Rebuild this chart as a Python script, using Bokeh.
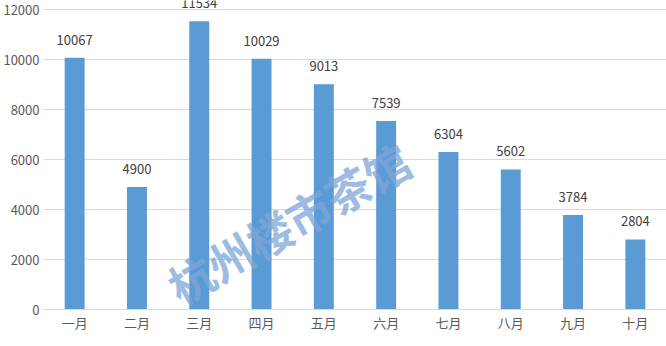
from bokeh.plotting import figure
from bokeh.models import ColumnDataSource, Range1d, FactorRange, Label
from bokeh.core.properties import value
from bokeh.embed import file_html
from bokeh.resources import INLINE

months = ["一月", "二月", "三月", "四月", "五月", "六月", "七月", "八月", "九月", "十月"]
values = [10067, 4900, 11534, 10029, 9013, 7539, 6304, 5602, 3784, 2804]
y_ticks = [0, 2000, 4000, 6000, 8000, 10000, 12000]

src = ColumnDataSource(dict(m=months, v=values, t=[str(v) for v in values]))

p = figure(width=666, height=346, x_range=FactorRange(*months, range_padding=0),
           y_range=Range1d(0, 12360), output_backend="svg", toolbar_location=None,
           min_border_left=0, min_border_right=0, min_border_top=0, min_border_bottom=37)
p.outline_line_color = None
p.background_fill_color = "white"

p.vbar(x="m", top="v", width=0.32, source=src, color="#5b9bd5", line_color=None)
p.text(x="m", y="v", text="t", source=src, text_align="center", text_baseline="bottom",
       y_offset=-13, text_font_size="13px", text_color="#404040",
       text_font=value("Noto Sans CJK SC"))

p.yaxis.ticker = y_ticks
p.yaxis.axis_line_color = None
p.yaxis.major_tick_line_color = None
p.yaxis.major_tick_out = 0
p.yaxis.major_tick_in = 0
p.yaxis.minor_tick_line_color = None
p.yaxis.major_label_text_color = "#595959"
p.yaxis.major_label_text_font_size = "13px"
p.yaxis.major_label_text_font = "Noto Sans CJK SC"
p.yaxis.major_label_standoff = 4

p.xaxis.axis_line_color = "#d9d9d9"
p.xaxis.major_tick_line_color = None
p.xaxis.major_tick_out = 0
p.xaxis.major_tick_in = 0
p.xaxis.minor_tick_line_color = None
p.xaxis.major_label_text_color = "#595959"
p.xaxis.major_label_text_font_size = "13px"
p.xaxis.major_label_text_font = "Noto Sans CJK SC"
p.xaxis.major_label_standoff = 3

p.xgrid.grid_line_color = None
p.ygrid.grid_line_color = "#d9d9d9"

wm = Label(x=245, y=87, x_units="screen", y_units="screen", text="杭州楼市茶馆",
           angle=0.52, text_align="center", text_baseline="middle",
           text_font="Noto Sans CJK SC", text_font_style="bold", text_font_size="45px",
           text_color="#7ea6d8", text_alpha=0.75)
p.add_layout(wm)

open("out.html", "w").write(file_html(p, INLINE))
